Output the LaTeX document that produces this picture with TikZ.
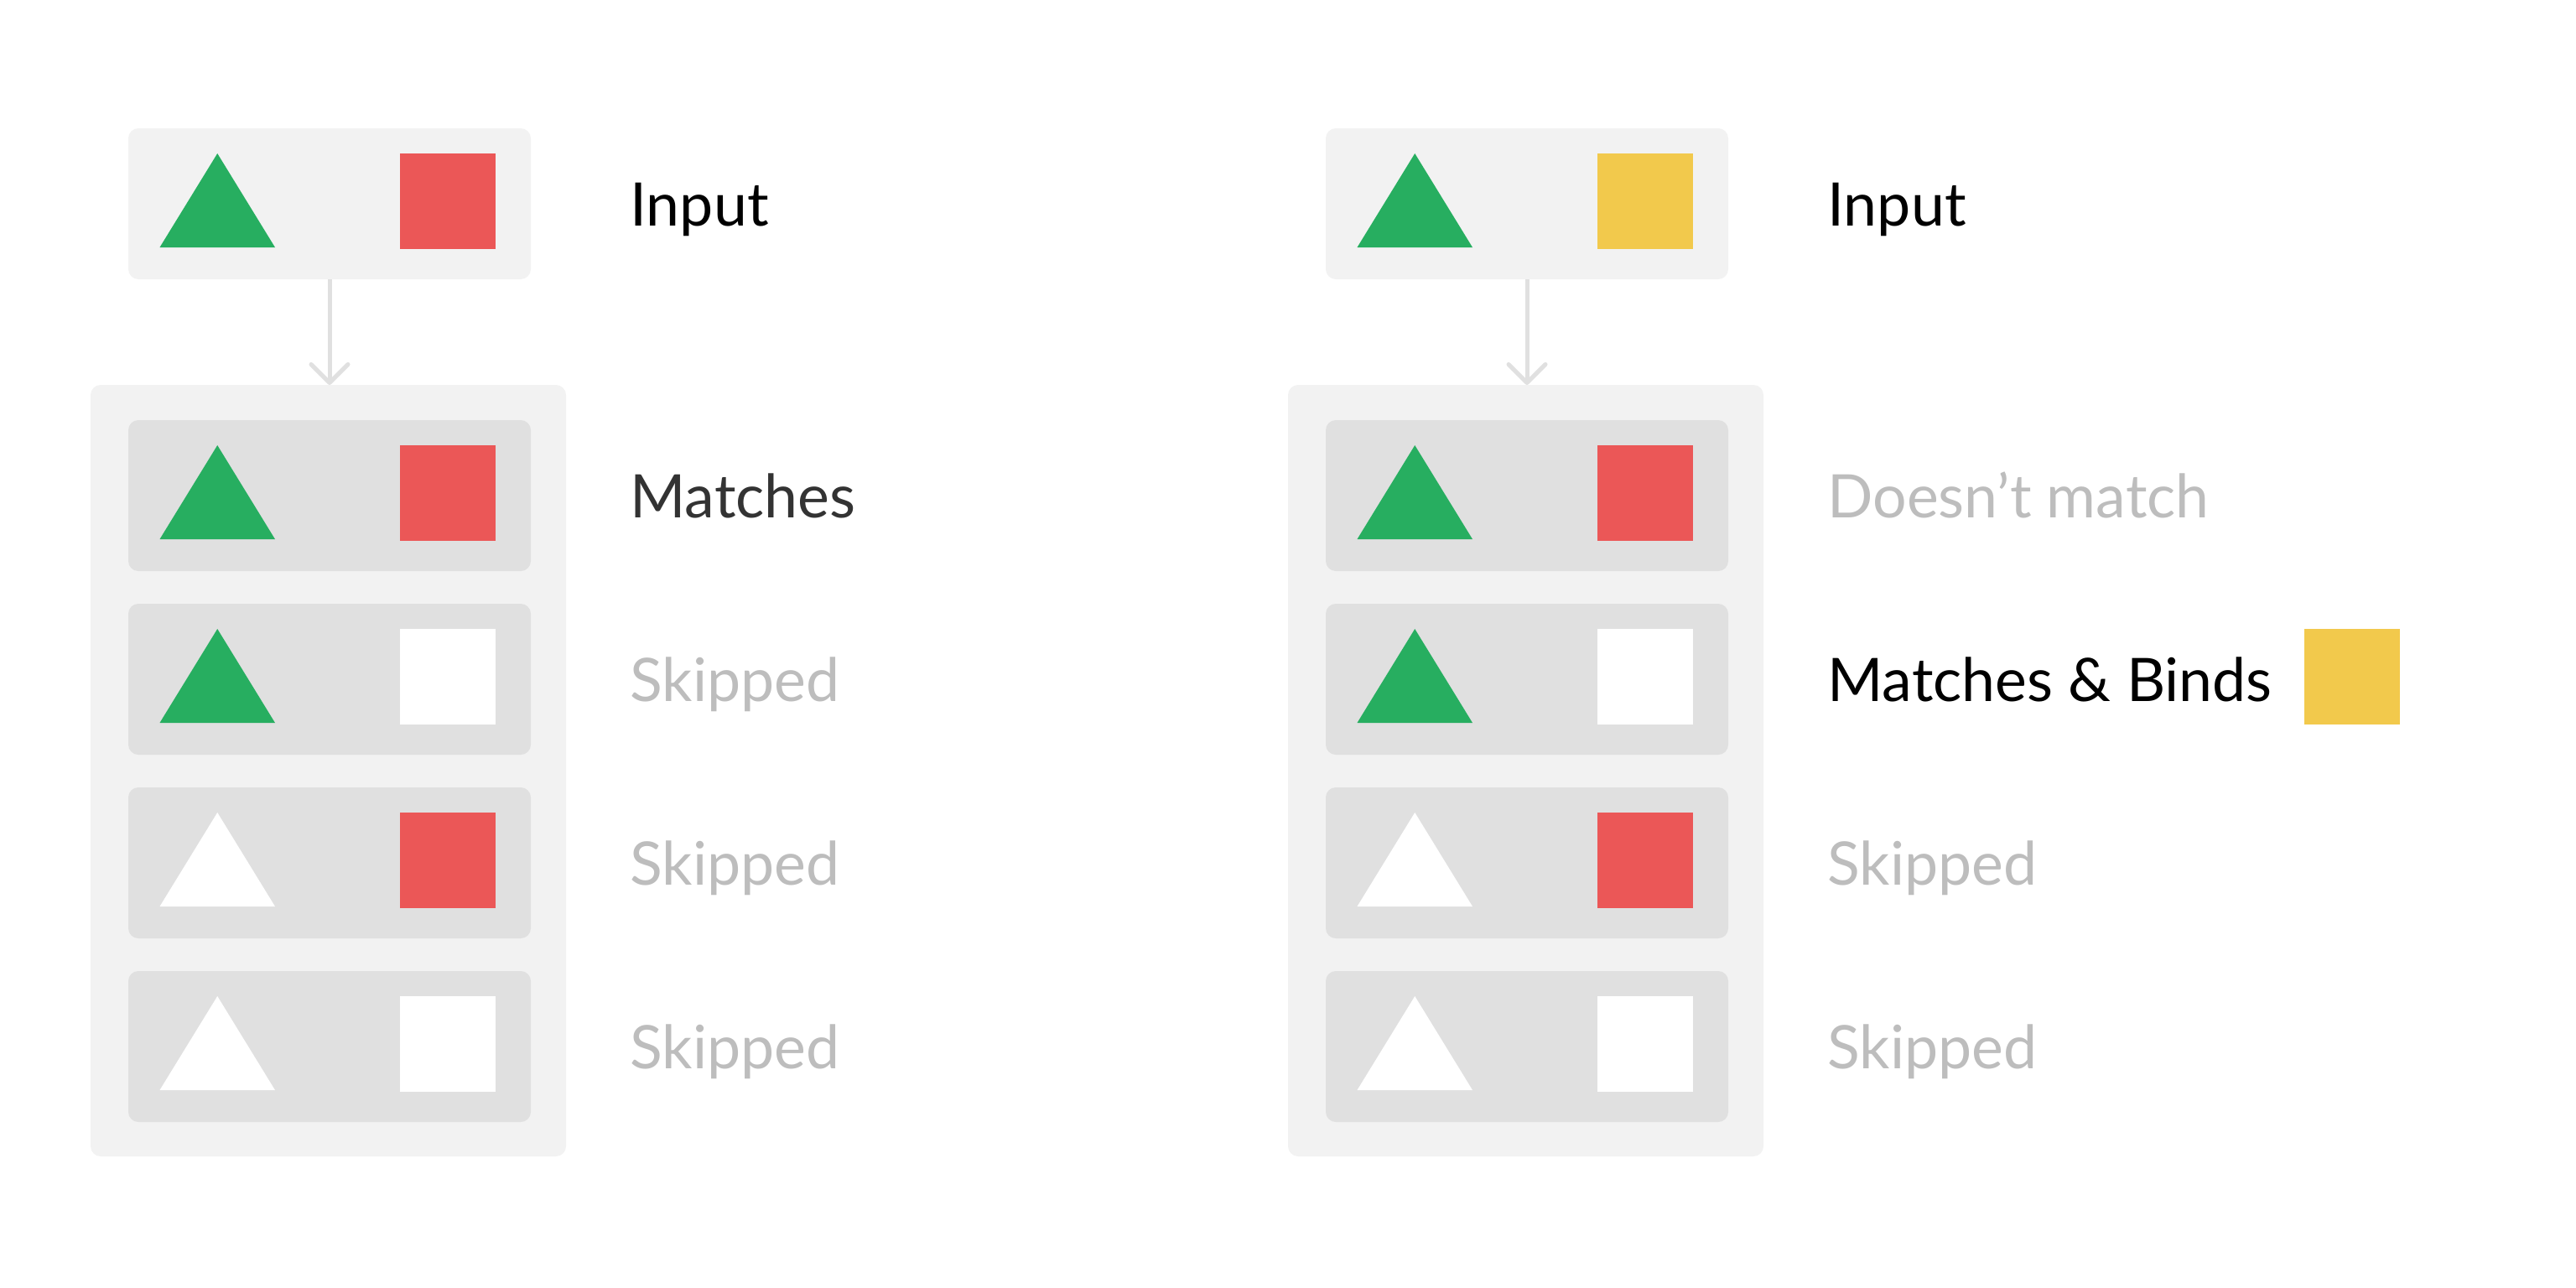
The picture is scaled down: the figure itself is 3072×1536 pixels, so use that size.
\documentclass[tikz,border=0pt]{standalone}
\usepackage{fontspec}
\setmainfont{Lato}
\usetikzlibrary{arrows.meta}
\definecolor{boxgray}{HTML}{F2F2F2}
\definecolor{rowgray}{HTML}{E0E0E0}
\definecolor{textgray}{HTML}{BDBDBD}
\definecolor{matchgray}{HTML}{333333}
\definecolor{trigreen}{HTML}{27AE60}
\definecolor{sqred}{HTML}{EB5757}
\definecolor{sqyellow}{HTML}{F2C94C}
\begin{document}
\begin{tikzpicture}[x=0.5pt,y=-0.5pt,
  inbox/.style={fill=boxgray,rounded corners=6pt,minimum width=240pt,minimum height=90pt,inner sep=0pt,outer sep=0pt},
  listbox/.style={fill=boxgray,rounded corners=6pt,minimum width=283.5pt,minimum height=460pt,inner sep=0pt,outer sep=0pt},
  rowbox/.style={fill=rowgray,rounded corners=6pt,minimum width=240pt,minimum height=90pt,inner sep=0pt,outer sep=0pt},
  lbl/.style={anchor=base west,inner sep=0pt,font=\fontsize{35.8pt}{44pt}\selectfont},
  flowarrow/.style={draw=rowgray,line width=2.5pt,-{Straight Barb[length=11pt,width=22pt,round]}}]
\useasboundingbox (0,0) rectangle (3072,1536);
\foreach \p/\dx/\ic in {1/0/sqred, 2/1428/sqyellow} {
  \node[inbox] (in\p) at (393+\dx,243) {};
  \fill[trigreen,shift={(in\p)}] (-202.5,52) -- (-133.75,-60) -- (-65,52) -- cycle;
  \fill[\ic,shift={(in\p)}] (84,-60) rectangle (198,54);
  \node[listbox] (list\p) at (391.5+\dx,919) {};
  \draw[flowarrow] (in\p.south) -- (in\p.south |- list\p.north);
  \foreach \i/\tc/\sc in {1/trigreen/sqred, 2/trigreen/white, 3/white/sqred, 4/white/white} {
    \node[rowbox] (r\p-\i) at (393+\dx,372+219*\i) {};
    \fill[\tc,shift={(r\p-\i)}] (-202.5,52) -- (-133.75,-60) -- (-65,52) -- cycle;
    \fill[\sc,shift={(r\p-\i)}] (84,-60) rectangle (198,54);
  }
}
\node[lbl] (t1-0) at ([xshift=59pt,yshift=-13pt]in1.east) {Input};
\node[lbl,text=matchgray] (t1-1) at ([xshift=59pt,yshift=-13pt]r1-1.east) {Matches};
\foreach \i in {2,3,4}
  \node[lbl,text=textgray] (t1-\i) at ([xshift=59pt,yshift=-13pt]r1-\i.east) {Skipped};
\node[lbl] (t2-0) at ([xshift=59pt,yshift=-13pt]in2.east) {Input};
\node[lbl,text=textgray] (t2-1) at ([xshift=59pt,yshift=-13pt]r2-1.east) {Doesn’t match};
\node[lbl] (t2-2) at ([xshift=59pt,yshift=-13pt]r2-2.east) {Matches \& Binds};
\foreach \i in {3,4}
  \node[lbl,text=textgray] (t2-\i) at ([xshift=59pt,yshift=-13pt]r2-\i.east) {Skipped};
\node[fill=sqyellow,minimum size=57pt,inner sep=0pt,outer sep=0pt] (bind) at (2805,807) {};
\end{tikzpicture}
\end{document}
